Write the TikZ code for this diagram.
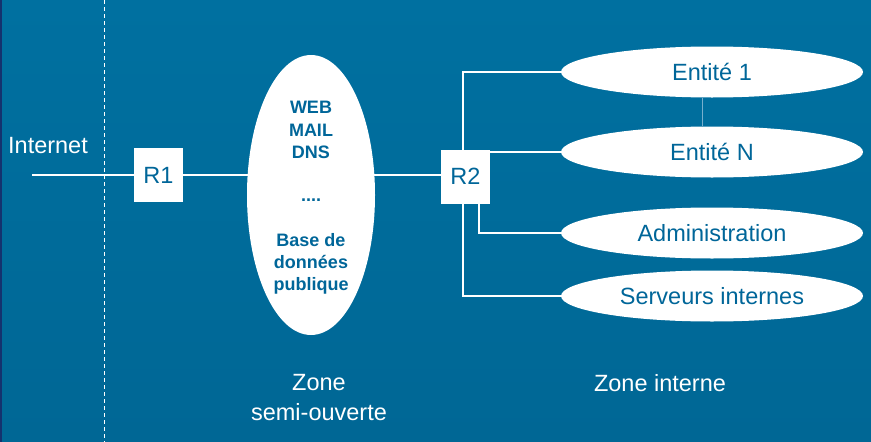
\documentclass[tikz,border=0pt]{standalone}
\usepackage{fontspec}
\setmainfont{Liberation Sans}
\usetikzlibrary{shapes.geometric}
\pgfdeclarelayer{backdrop}
\pgfdeclarelayer{background}
\pgfsetlayers{backdrop,background,main}
\definecolor{bgtop}{RGB}{0,112,160}
\definecolor{bgbot}{RGB}{0,103,149}
\definecolor{txtblue}{RGB}{0,102,153}
\definecolor{navy}{RGB}{20,50,110}
\definecolor{thinline}{RGB}{120,175,205}
\tikzset{
  router/.style={draw=none, fill=white, minimum width=49pt, minimum height=54pt, inner sep=0pt, text=txtblue, font=\fontsize{23.5}{26}\selectfont},
  zoneel/.style={ellipse, fill=white, draw=none, minimum width=302pt, minimum height=51pt, inner sep=0pt, text=txtblue, font=\fontsize{23.5}{26}\selectfont},
  wire/.style={draw=white, line width=2pt},
  lbl/.style={text=white, font=\fontsize{23.5}{26}\selectfont, inner sep=0pt},
  srvtxt/.style={text=txtblue, font=\fontsize{18}{22.3}\selectfont\bfseries, align=center, inner sep=0pt}
}
\begin{document}
\begin{tikzpicture}[x=1pt, y=-1pt]
\useasboundingbox (0,0) rectangle (871,442);
\begin{pgfonlayer}{backdrop}
\shade[top color=bgtop, bottom color=bgbot] (0,0) rectangle (871,442);
\fill[navy] (0,0) rectangle (2,442);
\end{pgfonlayer}
\draw[white, line width=1pt, dash pattern=on 4pt off 3pt] (104,0) -- (104,442);

\node[lbl] (internet) at (48,146) {Internet};
\coordinate (inet) at (32,175);
\node[router] (R1) at (158.5,175) {R1};
\node[ellipse, fill=white, minimum width=128pt, minimum height=280pt, inner sep=0pt] (srv) at (311,195) {};
\node[srvtxt] (svc) at (311,130) {WEB\\MAIL\\DNS};
\node[srvtxt] (dots) at (311,200) {....};
\node[srvtxt] (base) at (311,264) {Base de\\données\\publique};
\node[router] (R2) at (465.5,176.5) {R2};

\node[zoneel] (e1) at (712,72) {Entité 1};
\node[zoneel] (eN) at (712,152) {Entité N};
\node[zoneel] (adm) at (712,233) {Administration};
\node[zoneel] (int) at (712,296) {Serveurs internes};

\coordinate (bus) at (463,0);
\coordinate (admx) at (479,0);
\coordinate (lnk) at (702,0);

\node[lbl] (zso1) at (319,383) {Zone};
\node[lbl] (zso2) at (319,412) {semi-ouverte};
\node[lbl] (zint) at (660,383) {Zone interne};

\begin{pgfonlayer}{background}
\draw[wire] (inet) -- (R1.west |- inet);
\draw[wire] (R1.east |- inet) -- (srv.center |- inet);
\draw[wire] (srv.center |- inet) -- (R2.west |- inet);
\draw[wire] (e1.west) -- (e1.west -| bus) -- (int.west -| bus) -- (int.west);
\draw[wire] (R2.east |- eN.west) -- (eN.west);
\draw[wire] (R2.south -| admx) |- (adm.west);
\draw[thinline, line width=0.6pt] (e1.south -| lnk) -- (eN.north -| lnk);
\end{pgfonlayer}
\end{tikzpicture}
\end{document}
